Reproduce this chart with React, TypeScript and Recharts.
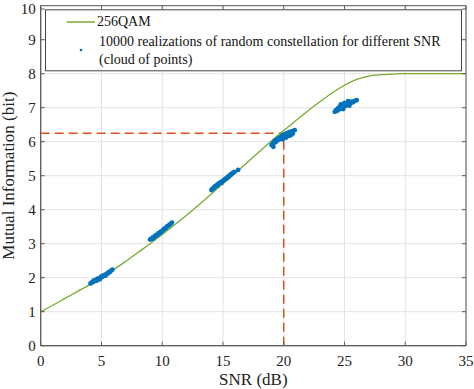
import { ComposedChart, Line, Scatter, XAxis, YAxis, CartesianGrid, ReferenceLine, ReferenceArea } from 'recharts';

// 256QAM mutual information curve (bit) vs SNR (dB)
const snrGrid = [0, 1, 2, 3, 4, 5, 6, 7, 8, 9, 10, 11, 12, 13, 14, 15, 16, 17, 18, 19, 20, 21, 22, 23, 24, 25, 26, 27, 28, 29, 30, 31, 32, 33, 34, 35];
const mi256qam = [1.0, 1.19, 1.39, 1.59, 1.79, 2.01, 2.24, 2.48, 2.74, 3.0, 3.27, 3.55, 3.84, 4.14, 4.45, 4.76, 5.07, 5.39, 5.71, 6.03, 6.33, 6.62, 6.91, 7.18, 7.44, 7.66, 7.83, 7.93, 7.97, 7.99, 8.0, 8.0, 8.0, 8.0, 8.0, 8.0];

// random constellation realizations, one cloud per SNR
const cloud5dB = [[4.1, 1.83], [4.2, 1.86], [4.3, 1.87], [4.35, 1.91], [4.45, 1.9], [4.55, 1.94], [4.6, 1.91], [4.7, 1.97], [4.8, 1.98], [4.85, 1.95], [4.95, 2.02], [5.05, 2.02], [5.1, 2.06], [5.2, 2.05], [5.3, 2.09], [5.35, 2.06], [5.45, 2.12], [5.55, 2.13], [5.6, 2.16], [5.7, 2.17], [5.8, 2.21], [5.9, 2.24]];
const cloud10dB = [[9.0, 3.12], [9.1, 3.14], [9.2, 3.18], [9.25, 3.15], [9.35, 3.21], [9.45, 3.22], [9.5, 3.26], [9.6, 3.25], [9.7, 3.31], [9.8, 3.31], [9.85, 3.35], [9.95, 3.35], [10.05, 3.4], [10.15, 3.42], [10.2, 3.45], [10.3, 3.46], [10.4, 3.51], [10.5, 3.52], [10.6, 3.56], [10.7, 3.58], [10.8, 3.62]];
const cloud15dB = [[14.05, 4.58], [14.15, 4.62], [14.25, 4.63], [14.3, 4.68], [14.4, 4.69], [14.5, 4.73], [14.55, 4.71], [14.65, 4.77], [14.75, 4.79], [14.85, 4.82], [14.9, 4.79], [15.0, 4.85], [15.1, 4.88], [15.2, 4.91], [15.3, 4.92], [15.4, 4.97], [15.5, 4.98], [15.6, 5.03], [15.7, 5.04], [15.8, 5.08], [15.95, 5.11], [16.25, 5.17]];
const cloud20dB = [[19.0, 5.9], [19.1, 5.95], [19.2, 5.97], [19.25, 6.02], [19.35, 5.99], [19.4, 6.06], [19.5, 6.04], [19.55, 6.1], [19.65, 6.07], [19.7, 6.13], [19.8, 6.1], [19.85, 6.17], [19.95, 6.14], [20.0, 6.2], [20.1, 6.17], [20.15, 6.23], [20.25, 6.21], [20.3, 6.26], [20.4, 6.24], [20.5, 6.29], [20.6, 6.27], [20.7, 6.31], [20.9, 6.34], [19.15, 5.85], [19.9, 6.07], [20.2, 6.12], [20.45, 6.17], [20.6, 6.2], [20.75, 6.24], [20.0, 6.1]];
const cloud25dB = [[24.2, 6.88], [24.3, 6.93], [24.4, 6.91], [24.45, 6.98], [24.55, 6.95], [24.6, 7.02], [24.7, 6.98], [24.75, 7.05], [24.85, 7.01], [24.9, 7.08], [25.0, 7.04], [25.05, 7.11], [25.15, 7.07], [25.2, 7.13], [25.3, 7.1], [25.4, 7.15], [25.5, 7.13], [25.6, 7.18], [25.7, 7.16], [25.85, 7.2], [26.0, 7.22], [24.7, 7.1], [25.0, 7.14], [25.3, 7.19], [24.9, 6.96], [25.4, 7.06]];

const xTicks = [0, 5, 10, 15, 20, 25, 30, 35];
const yTicks = [0, 1, 2, 3, 4, 5, 6, 7, 8, 9, 10];
const targetSnr = 20;
const targetMi = 6.25;

const curveData = snrGrid.map((snr, i) => ({ snr, mi: mi256qam[i] }));
const cloudData = [cloud5dB, cloud10dB, cloud15dB, cloud20dB, cloud25dB].flat().map(([snr, mi]) => ({ snr, mi }));

const W = 474;
const H = 389;
const PLOT_LEFT = 40.7;
const PLOT_RIGHT = 466;
const PLOT_TOP = 5.7;
const PLOT_BOTTOM = 345.7;
const SERIF = '"Liberation Serif", "Times New Roman", serif';
const AXIS = '#5a5a5a';

const YTick = (props: any) => {
  const { x, y, payload } = props;
  return (
    <g>
      <line x1={PLOT_LEFT} x2={PLOT_LEFT + 4} y1={y} y2={y} stroke={AXIS} />
      <line x1={PLOT_RIGHT} x2={PLOT_RIGHT - 4} y1={y} y2={y} stroke={AXIS} />
      <text x={x} y={y} textAnchor="end" dominantBaseline="central" fontSize={15} fontFamily={SERIF} fill="#222">
        {payload.value}
      </text>
    </g>
  );
};

const XTick = (props: any) => {
  const { x, y, payload } = props;
  return (
    <g>
      <line x1={x} x2={x} y1={PLOT_BOTTOM} y2={PLOT_BOTTOM - 4} stroke={AXIS} />
      <line x1={x} x2={x} y1={PLOT_TOP} y2={PLOT_TOP + 4} stroke={AXIS} />
      <text x={x} y={y} textAnchor="middle" dominantBaseline="central" fontSize={15} fontFamily={SERIF} fill="#222">
        {payload.value}
      </text>
    </g>
  );
};

// legend box drawn inside the chart svg (top left of the plot area)
const LegendBox = () => (
  <g transform="translate(45 9.3)">
    <rect x={0.5} y={0.5} width={416} height={61} fill="#fff" stroke="#444" />
    <line x1={21.7} x2={50} y1={12.7} y2={12.7} stroke="#77AC30" strokeWidth={1.5} />
    <text x={52} y={12.7} dominantBaseline="central" fontSize={14} fontFamily={SERIF} fill="#111">256QAM</text>
    <circle cx={36} cy={40.7} r={1.3} fill="#0072BD" />
    <text x={54} y={32.7} dominantBaseline="central" fontSize={14} fontFamily={SERIF} fill="#111">
      10000 realizations of random constellation for different SNR
    </text>
    <text x={54} y={50.7} dominantBaseline="central" fontSize={14} fontFamily={SERIF} fill="#111">(cloud of points)</text>
  </g>
);

const App = () => {
  return (
    <div style={{ position: 'absolute', left: 0, top: 0, width: W, height: H, background: '#fff' }}>
      <ComposedChart width={W} height={H} margin={{ top: PLOT_TOP, right: W - PLOT_RIGHT, bottom: 0, left: 0 }}>
        <CartesianGrid stroke="#e3e3e3" strokeWidth={1} />
        <XAxis
          dataKey="snr"
          type="number"
          domain={[0, 35]}
          ticks={xTicks}
          height={H - PLOT_BOTTOM}
          tick={XTick}
          tickLine={false}
          tickSize={0}
          tickMargin={15}
          axisLine={{ stroke: AXIS }}
          label={{
            content: () => (
              <text x={(PLOT_LEFT + PLOT_RIGHT) / 2} y={379} textAnchor="middle" dominantBaseline="central" fontSize={17} fontFamily={SERIF} fill="#222">
                SNR (dB)
              </text>
            ),
          }}
        />
        <YAxis
          dataKey="mi"
          type="number"
          domain={[0, 10]}
          ticks={yTicks}
          width={PLOT_LEFT}
          tick={YTick}
          tickLine={false}
          tickSize={0}
          tickMargin={5}
          axisLine={{ stroke: AXIS }}
          label={{
            content: () => (
              <text
                x={9}
                y={(PLOT_TOP + PLOT_BOTTOM) / 2}
                transform={`rotate(-90 9 ${(PLOT_TOP + PLOT_BOTTOM) / 2})`}
                textAnchor="middle"
                dominantBaseline="central"
                fontSize={17}
                fontFamily={SERIF}
                fill="#222"
              >
                Mutual Information (bit)
              </text>
            ),
          }}
        />
        <ReferenceArea x1={0} x2={35} y1={0} y2={10} fill="none" stroke={AXIS} strokeWidth={1} />
        <ReferenceLine
          segment={[{ x: 0, y: targetMi }, { x: targetSnr, y: targetMi }]}
          stroke="#D95319"
          strokeWidth={1.5}
          strokeDasharray="9 5"
        />
        <ReferenceLine
          segment={[{ x: targetSnr, y: 0 }, { x: targetSnr, y: targetMi }]}
          stroke="#D95319"
          strokeWidth={1.5}
          strokeDasharray="9 5"
        />
        <Line
          data={curveData}
          dataKey="mi"
          type="monotone"
          stroke="#77AC30"
          strokeWidth={1.3}
          dot={false}
          activeDot={false}
          isAnimationActive={false}
        />
        <Scatter
          data={cloudData}
          dataKey="mi"
          fill="#0072BD"
          isAnimationActive={false}
          shape={(p: any) => <circle cx={p.cx} cy={p.cy} r={2.4} fill="#0072BD" />}
        />
        <LegendBox />
      </ComposedChart>
    </div>
  );
};

export default App;
